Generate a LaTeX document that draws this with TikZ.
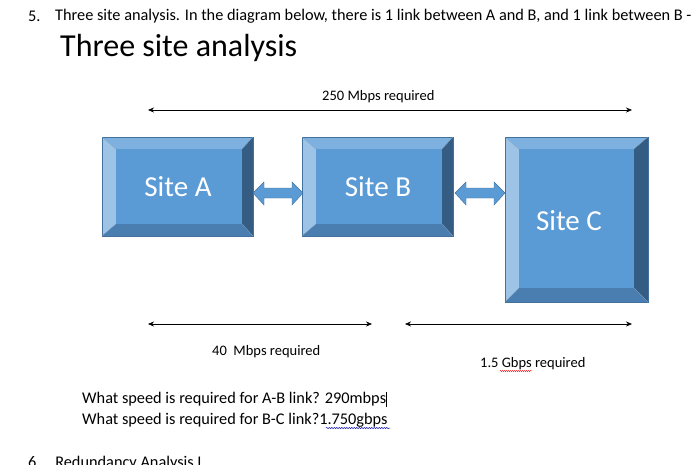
\documentclass[tikz,border=0pt]{standalone}
\usepackage{fontspec}
\setmainfont{Carlito}
\usetikzlibrary{arrows.meta,decorations.pathmorphing}
\definecolor{face}{HTML}{5B9BD5}
\definecolor{btop}{HTML}{7EB0E0}
\definecolor{bleft}{HTML}{9DC3E6}
\definecolor{bright}{HTML}{355C82}
\definecolor{bbot}{HTML}{4A7DB0}
\definecolor{edge}{HTML}{41719C}
\tikzset{
 lbl/.style={font=\fontsize{14.5}{16}\selectfont,inner sep=0,anchor=west},
 txt/.style={font=\fontsize{16.3}{18}\selectfont,inner sep=0,anchor=west},
 dim/.style={{Stealth[length=6pt,width=5pt]}-{Stealth[length=6pt,width=5pt]},line width=0.6pt},
 site/.style={font=\fontsize{29}{32}\selectfont,text=white,inner sep=0},
 blk/.style={fill=face,draw=edge,line width=0.4pt}
}
\newcommand{\bevbox}[9]{% x1 y1 x2 y2 ix1 iy1 ix2 iy2 name
 \fill[btop] (#1,#2)--(#3,#2)--(#7,#6)--(#5,#6)--cycle;
 \fill[bleft] (#1,#2)--(#5,#6)--(#5,#8)--(#1,#4)--cycle;
 \fill[bright] (#3,#2)--(#3,#4)--(#7,#8)--(#7,#6)--cycle;
 \fill[bbot] (#1,#4)--(#3,#4)--(#7,#8)--(#5,#8)--cycle;
 \fill[face] (#5,#6) rectangle (#7,#8);
 \draw[edge,line width=0.4pt] (#1,#2) rectangle (#3,#4);
 \draw[edge!70,line width=0.3pt] (#1,#2)--(#5,#6) (#3,#2)--(#7,#6) (#1,#4)--(#5,#8) (#3,#4)--(#7,#8);
 \coordinate (#9) at ({(#5+#7)/2},{(#6+#8)/2});
}
\begin{document}
\begin{tikzpicture}[x=1pt,y=-1pt]
\useasboundingbox[fill=white] (0,0) rectangle (696,464);
\node[txt] (n5) at (28,16) {5.};
\node[txt] (l1) at (55,16) {Three site analysis. In the diagram below, there is 1 link between A and B, and 1 link between B -};
\node[font=\fontsize{32}{36}\selectfont,inner sep=0,anchor=west] (title) at (60,48) {Three site analysis};

\coordinate (t1) at (148,110); \coordinate (t2) at (632,110);
\draw[dim] (t1)--(t2);
\node[lbl] (l250) at (322,97) {250 Mbps required};

\bevbox{102}{137}{253}{236}{116}{149}{242}{224}{ca}
\bevbox{302}{137}{453}{236}{316}{149}{442}{224}{cb}
\bevbox{505}{137}{648}{302}{519}{149}{634}{288}{cc}
\node[site] (A) at (178,187) {Site A};
\node[site] (B) at (378,187) {Site B};
\node[site] (C) at (569,221) {Site C};

\draw[blk] (253,193)--(264,182)--(264,188)--(292,188)--(292,182)--(303,193)--(292,205)--(292,198)--(264,198)--(264,205)--cycle;
\draw[blk] (455,193)--(466,182)--(466,188)--(494,188)--(494,182)--(505,193)--(494,205)--(494,198)--(466,198)--(466,205)--cycle;

\coordinate (a1) at (148,324); \coordinate (a2) at (372,324);
\draw[dim] (a1)--(a2);
\coordinate (c1) at (405,324); \coordinate (c2) at (632,324);
\draw[dim] (c1)--(c2);
\node[lbl] (l40) at (212,352) {40\ \ Mbps required};
\node[lbl] (l15) at (480,364) {1.5 Gbps required};
\draw[red,line width=0.4pt,decorate,decoration={snake,amplitude=0.6pt,segment length=2pt}] (500,371)--(532,371);

\node[txt] (q1) at (82,399) {What speed is required for A-B link? 290mbps\rule[-3pt]{0.5pt}{15pt}};
\node[txt] (q2) at (82,420) {What speed is required for B-C link?1.750gbps};
\draw[blue!70!black,line width=0.5pt,decorate,decoration={snake,amplitude=0.6pt,segment length=2.5pt}] (326,428)--(390,428);
\node[txt] (n6) at (28,463) {6.\ \ \ \ Redundancy Analysis I};
\end{tikzpicture}
\end{document}
